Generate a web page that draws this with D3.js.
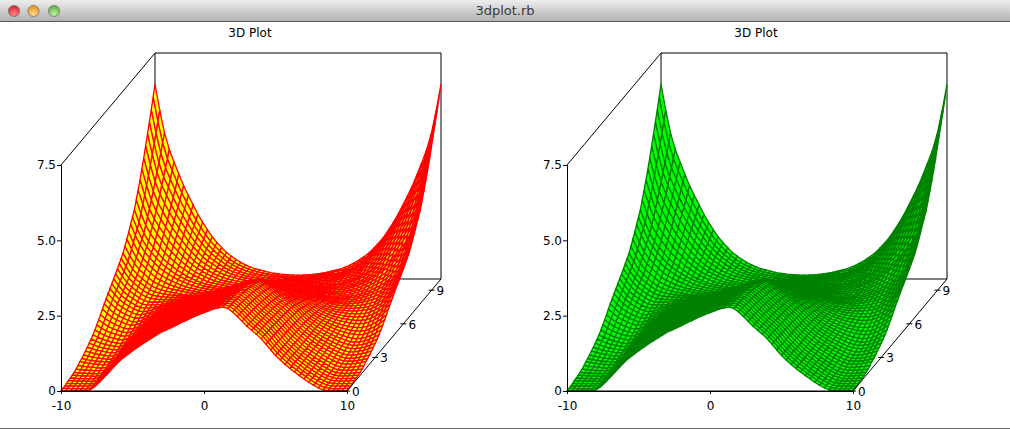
<!DOCTYPE html>
<html><head><meta charset="utf-8"><script src="https://cdnjs.cloudflare.com/ajax/libs/d3/7.8.5/d3.min.js"></script>
<style>html,body{margin:0;padding:0;background:#fff}svg{display:block}text{font-family:"DejaVu Sans",sans-serif}</style></head><body><script>
const W=1010,H=429;
const title="3D Plot",windowTitle="3dplot.rb";
const xTicks=[-10,0,10],zTicks=[0,2.5,5,7.5],depthTicks=[0,3,6,9];
const xValues=d3.range(61).map(i=>-10+i/3),depthValues=d3.range(51).map(i=>i/5);
const surfaceZ=[
[0,0,0,0,0,0,.03,.13,.28,.45,.62,.79,.95,1.09,1.21,1.33,1.44,1.55,1.65,1.75,1.85,1.95,2.02,2.09,2.17,2.25,2.32,2.40,2.47,2.54,2.60,2.66,2.72,2.76,2.78,2.74,2.62,2.47,2.31,2.15,2.01,1.88,1.73,1.55,1.36,1.18,1.03,.88,.75,.63,.51,.40,.29,.19,.10,.04,.01,0,0,0,0],
[.01,.01,0,0,0,0,.03,.13,.28,.45,.62,.79,.95,1.09,1.21,1.33,1.44,1.55,1.65,1.75,1.85,1.95,2.02,2.09,2.17,2.25,2.32,2.40,2.47,2.54,2.60,2.65,2.71,2.76,2.78,2.73,2.62,2.47,2.31,2.15,2.01,1.88,1.73,1.55,1.36,1.18,1.03,.88,.75,.63,.51,.40,.29,.19,.10,.04,.01,0,0,.01,.01],
[.01,.01,.01,.01,.01,.01,.04,.14,.28,.45,.62,.79,.95,1.09,1.21,1.33,1.44,1.54,1.64,1.74,1.84,1.94,2.01,2.08,2.16,2.24,2.31,2.39,2.46,2.53,2.59,2.65,2.71,2.75,2.77,2.73,2.61,2.46,2.30,2.14,2.00,1.87,1.72,1.54,1.35,1.18,1.03,.88,.75,.63,.51,.40,.29,.20,.11,.05,.02,.01,.01,.01,.01],
[.03,.02,.02,.02,.02,.01,.04,.14,.29,.45,.62,.79,.95,1.09,1.20,1.32,1.43,1.54,1.64,1.74,1.84,1.94,2.01,2.07,2.15,2.23,2.30,2.38,2.45,2.52,2.58,2.64,2.70,2.74,2.76,2.72,2.60,2.45,2.29,2.13,2.00,1.87,1.72,1.54,1.35,1.17,1.03,.88,.75,.63,.51,.40,.30,.20,.11,.05,.03,.02,.02,.02,.03],
[.05,.04,.03,.03,.03,.02,.05,.15,.29,.46,.63,.79,.95,1.09,1.20,1.32,1.43,1.54,1.63,1.73,1.83,1.93,2.00,2.07,2.15,2.22,2.29,2.37,2.44,2.51,2.57,2.63,2.69,2.73,2.75,2.71,2.59,2.44,2.28,2.13,1.99,1.86,1.71,1.54,1.35,1.17,1.03,.88,.75,.63,.52,.41,.30,.21,.12,.06,.04,.03,.03,.04,.05],
[.06,.05,.04,.04,.03,.03,.06,.15,.30,.46,.63,.79,.95,1.08,1.20,1.32,1.42,1.53,1.63,1.72,1.82,1.92,1.99,2.06,2.14,2.21,2.28,2.36,2.43,2.50,2.56,2.62,2.68,2.71,2.73,2.70,2.58,2.43,2.27,2.12,1.98,1.85,1.71,1.53,1.34,1.17,1.02,.88,.75,.63,.52,.41,.31,.21,.13,.07,.04,.04,.04,.05,.06],
[.08,.07,.06,.05,.05,.04,.07,.16,.30,.47,.63,.79,.95,1.08,1.19,1.31,1.42,1.52,1.62,1.72,1.81,1.91,1.98,2.05,2.12,2.20,2.27,2.35,2.41,2.48,2.54,2.60,2.66,2.70,2.72,2.68,2.56,2.42,2.26,2.11,1.97,1.84,1.70,1.52,1.34,1.16,1.02,.87,.75,.63,.52,.42,.31,.22,.14,.08,.06,.05,.06,.07,.08],
[.10,.08,.07,.06,.06,.05,.08,.17,.31,.47,.63,.79,.94,1.08,1.19,1.30,1.41,1.52,1.61,1.71,1.80,1.90,1.97,2.04,2.11,2.19,2.26,2.34,2.40,2.47,2.53,2.59,2.65,2.69,2.71,2.67,2.55,2.40,2.25,2.10,1.96,1.83,1.69,1.52,1.33,1.16,1.02,.87,.75,.64,.52,.42,.32,.23,.14,.09,.07,.06,.07,.08,.10],
[.13,.11,.10,.09,.08,.07,.09,.18,.32,.48,.64,.79,.94,1.08,1.19,1.30,1.40,1.51,1.60,1.70,1.79,1.89,1.95,2.02,2.10,2.17,2.24,2.32,2.39,2.45,2.51,2.57,2.63,2.67,2.69,2.65,2.53,2.39,2.24,2.08,1.95,1.82,1.68,1.51,1.33,1.16,1.01,.87,.75,.64,.53,.43,.33,.24,.16,.11,.09,.09,.10,.11,.13],
[.17,.15,.13,.12,.10,.09,.11,.20,.33,.49,.64,.80,.95,1.08,1.19,1.30,1.40,1.50,1.59,1.69,1.78,1.88,1.94,2.01,2.08,2.16,2.22,2.30,2.37,2.43,2.49,2.55,2.61,2.65,2.67,2.63,2.51,2.37,2.22,2.07,1.93,1.81,1.67,1.50,1.32,1.15,1.02,.88,.75,.65,.54,.44,.34,.26,.18,.13,.11,.12,.13,.15,.17],
[.23,.20,.17,.15,.14,.12,.14,.22,.35,.50,.65,.81,.95,1.08,1.18,1.29,1.39,1.49,1.58,1.68,1.77,1.86,1.93,1.99,2.06,2.14,2.21,2.28,2.35,2.41,2.47,2.53,2.58,2.62,2.64,2.60,2.49,2.35,2.20,2.05,1.92,1.80,1.66,1.49,1.32,1.15,1.01,.88,.76,.65,.55,.45,.36,.28,.20,.16,.15,.15,.17,.20,.23],
[.26,.22,.19,.17,.16,.14,.15,.23,.36,.51,.66,.81,.95,1.07,1.18,1.29,1.38,1.48,1.57,1.66,1.76,1.85,1.91,1.97,2.05,2.12,2.19,2.26,2.33,2.39,2.45,2.51,2.56,2.60,2.62,2.58,2.47,2.33,2.18,2.03,1.91,1.79,1.65,1.48,1.31,1.14,1.01,.88,.76,.66,.55,.46,.37,.29,.22,.18,.17,.17,.19,.22,.26],
[.30,.26,.23,.20,.18,.16,.17,.25,.38,.52,.66,.81,.95,1.07,1.17,1.28,1.38,1.47,1.56,1.65,1.74,1.83,1.89,1.96,2.03,2.10,2.17,2.24,2.30,2.37,2.42,2.48,2.54,2.57,2.59,2.56,2.45,2.31,2.16,2.02,1.89,1.77,1.63,1.47,1.30,1.14,1.01,.88,.76,.66,.56,.47,.39,.31,.24,.20,.19,.20,.23,.26,.30],
[.36,.31,.27,.24,.21,.19,.20,.27,.39,.53,.67,.82,.95,1.07,1.17,1.27,1.37,1.46,1.55,1.64,1.72,1.81,1.88,1.94,2.01,2.08,2.14,2.22,2.28,2.34,2.40,2.46,2.51,2.55,2.57,2.53,2.42,2.29,2.14,2.00,1.87,1.76,1.62,1.46,1.29,1.13,1.00,.88,.77,.67,.57,.49,.40,.33,.26,.23,.22,.24,.27,.31,.36],
[.41,.36,.31,.28,.25,.22,.23,.30,.41,.55,.68,.82,.95,1.07,1.17,1.27,1.36,1.45,1.53,1.62,1.71,1.79,1.85,1.92,1.98,2.05,2.12,2.19,2.25,2.32,2.37,2.42,2.48,2.52,2.54,2.50,2.39,2.26,2.12,1.97,1.85,1.74,1.60,1.45,1.28,1.13,1.00,.88,.77,.68,.58,.50,.42,.35,.29,.25,.26,.28,.31,.36,.41],
[.47,.41,.35,.31,.28,.25,.25,.32,.43,.56,.69,.83,.95,1.06,1.17,1.26,1.35,1.43,1.52,1.60,1.69,1.77,1.83,1.89,1.96,2.03,2.09,2.16,2.22,2.28,2.34,2.39,2.44,2.48,2.50,2.47,2.36,2.23,2.09,1.95,1.83,1.72,1.59,1.43,1.27,1.12,1.00,.88,.77,.68,.59,.51,.44,.37,.32,.29,.29,.31,.35,.41,.47],
[.53,.46,.40,.35,.32,.29,.28,.34,.45,.57,.70,.83,.95,1.06,1.15,1.24,1.33,1.42,1.50,1.58,1.66,1.74,1.80,1.86,1.93,2.00,2.06,2.12,2.19,2.25,2.30,2.35,2.41,2.44,2.46,2.43,2.32,2.20,2.06,1.92,1.80,1.69,1.57,1.42,1.26,1.11,.99,.87,.77,.69,.61,.53,.46,.39,.35,.32,.33,.35,.40,.46,.53],
[.60,.52,.45,.40,.36,.32,.31,.37,.47,.59,.71,.83,.95,1.05,1.14,1.23,1.31,1.40,1.47,1.55,1.63,1.71,1.77,1.83,1.89,1.96,2.02,2.09,2.14,2.20,2.26,2.31,2.36,2.40,2.41,2.38,2.28,2.15,2.02,1.89,1.77,1.67,1.54,1.40,1.24,1.10,.98,.87,.78,.69,.61,.54,.48,.42,.37,.36,.36,.40,.45,.52,.60],
[.68,.59,.51,.45,.41,.37,.35,.40,.49,.60,.72,.83,.95,1.04,1.13,1.21,1.30,1.37,1.44,1.52,1.60,1.67,1.73,1.78,1.85,1.91,1.97,2.03,2.09,2.15,2.20,2.25,2.30,2.34,2.35,2.32,2.22,2.10,1.97,1.84,1.73,1.63,1.51,1.37,1.22,1.08,.97,.87,.78,.70,.63,.56,.50,.45,.41,.40,.41,.45,.51,.59,.68],
[.78,.67,.58,.52,.47,.42,.40,.44,.52,.63,.73,.84,.94,1.03,1.11,1.19,1.26,1.34,1.41,1.48,1.55,1.62,1.68,1.73,1.79,1.85,1.90,1.97,2.02,2.08,2.13,2.18,2.23,2.26,2.28,2.25,2.15,2.04,1.91,1.79,1.68,1.58,1.47,1.34,1.19,1.06,.96,.86,.78,.71,.64,.58,.53,.49,.47,.45,.47,.52,.58,.67,.78],
[.87,.76,.65,.58,.52,.47,.44,.48,.55,.65,.74,.85,.93,1.02,1.09,1.16,1.23,1.31,1.37,1.44,1.51,1.58,1.63,1.68,1.73,1.79,1.84,1.90,1.96,2.01,2.06,2.11,2.15,2.19,2.20,2.18,2.09,1.97,1.85,1.73,1.63,1.54,1.43,1.30,1.17,1.04,.95,.85,.78,.71,.65,.60,.56,.52,.50,.50,.52,.58,.65,.76,.87],
[.97,.84,.73,.65,.58,.52,.49,.51,.58,.66,.75,.84,.93,1.00,1.07,1.14,1.20,1.27,1.33,1.39,1.46,1.52,1.57,1.62,1.67,1.73,1.78,1.84,1.89,1.94,1.98,2.03,2.08,2.11,2.12,2.10,2.01,1.90,1.79,1.68,1.58,1.49,1.39,1.27,1.14,1.02,.93,.84,.78,.72,.67,.62,.58,.56,.54,.55,.58,.65,.73,.84,.97],
[1.08,.94,.81,.72,.65,.58,.54,.56,.61,.69,.76,.85,.92,.99,1.05,1.11,1.17,1.23,1.29,1.35,1.41,1.47,1.52,1.57,1.61,1.67,1.72,1.77,1.82,1.87,1.91,1.95,2.00,2.03,2.04,2.02,1.94,1.83,1.72,1.62,1.52,1.44,1.35,1.23,1.11,.99,.92,.84,.78,.73,.68,.65,.62,.60,.59,.61,.65,.72,.81,.94,1.08],
[1.18,1.02,.88,.78,.71,.63,.58,.59,.64,.71,.77,.85,.91,.97,1.03,1.08,1.13,1.19,1.24,1.30,1.35,1.41,1.45,1.50,1.54,1.59,1.64,1.69,1.74,1.78,1.82,1.86,1.91,1.94,1.95,1.93,1.85,1.76,1.65,1.55,1.46,1.39,1.30,1.19,1.08,.98,.90,.83,.77,.73,.69,.67,.64,.63,.63,.66,.71,.78,.88,1.02,1.18],
[1.27,1.10,.96,.85,.76,.69,.63,.63,.67,.73,.78,.85,.90,.96,1.00,1.05,1.10,1.15,1.20,1.25,1.30,1.35,1.39,1.43,1.48,1.52,1.57,1.61,1.66,1.70,1.74,1.78,1.82,1.85,1.87,1.84,1.77,1.68,1.58,1.49,1.41,1.33,1.25,1.15,1.05,.95,.89,.82,.77,.74,.70,.69,.67,.67,.68,.71,.76,.85,.96,1.10,1.27],
[1.37,1.19,1.03,.91,.82,.74,.68,.67,.70,.74,.79,.84,.89,.94,.98,1.02,1.06,1.11,1.15,1.19,1.24,1.29,1.33,1.36,1.40,1.45,1.49,1.53,1.57,1.61,1.65,1.69,1.73,1.76,1.77,1.75,1.68,1.60,1.51,1.42,1.34,1.27,1.20,1.11,1.01,.92,.86,.81,.77,.74,.72,.71,.70,.71,.72,.76,.83,.91,1.03,1.19,1.37],
[1.46,1.27,1.10,.97,.88,.79,.72,.70,.72,.76,.80,.85,.88,.92,.95,.98,1.03,1.07,1.10,1.14,1.18,1.23,1.26,1.30,1.33,1.37,1.41,1.45,1.49,1.53,1.56,1.60,1.64,1.66,1.68,1.66,1.60,1.52,1.43,1.35,1.28,1.22,1.14,1.06,.97,.89,.84,.79,.76,.74,.72,.72,.73,.74,.76,.81,.88,.97,1.10,1.27,1.46],
[1.55,1.34,1.16,1.03,.93,.84,.76,.74,.75,.77,.80,.83,.87,.90,.92,.95,.98,1.02,1.05,1.08,1.12,1.16,1.19,1.22,1.25,1.29,1.33,1.37,1.41,1.44,1.47,1.51,1.54,1.57,1.58,1.57,1.50,1.43,1.35,1.27,1.21,1.16,1.09,1.01,.94,.87,.82,.78,.75,.74,.73,.74,.75,.77,.80,.84,.93,1.03,1.16,1.34,1.55],
[1.64,1.42,1.23,1.09,.99,.88,.80,.77,.77,.78,.79,.82,.85,.87,.89,.92,.94,.97,1.00,1.03,1.06,1.10,1.13,1.15,1.19,1.22,1.25,1.29,1.32,1.36,1.38,1.42,1.45,1.47,1.49,1.47,1.42,1.35,1.28,1.21,1.15,1.10,1.04,.97,.90,.84,.80,.76,.75,.74,.74,.75,.77,.80,.84,.88,.99,1.09,1.23,1.42,1.64],
[1.73,1.50,1.30,1.15,1.04,.93,.84,.80,.79,.79,.80,.82,.84,.85,.86,.87,.90,.92,.95,.97,1.00,1.03,1.06,1.08,1.10,1.14,1.17,1.20,1.23,1.26,1.29,1.31,1.34,1.37,1.38,1.37,1.32,1.26,1.19,1.12,1.07,1.03,.98,.92,.86,.80,.77,.75,.73,.74,.75,.77,.80,.83,.88,.93,1.04,1.15,1.30,1.50,1.73],
[1.82,1.58,1.37,1.21,1.09,.98,.89,.84,.82,.80,.80,.81,.81,.82,.84,.83,.85,.87,.88,.90,.93,.96,.97,1.00,1.02,1.06,1.07,1.10,1.13,1.16,1.18,1.21,1.24,1.26,1.27,1.26,1.21,1.16,1.10,1.04,1.00,.96,.92,.87,.81,.76,.74,.72,.72,.74,.75,.78,.82,.86,.92,.98,1.09,1.21,1.37,1.58,1.82],
[1.92,1.66,1.44,1.28,1.15,1.03,.93,.87,.84,.82,.81,.80,.80,.80,.80,.79,.81,.81,.83,.84,.87,.89,.90,.91,.93,.96,.98,1.00,1.03,1.06,1.08,1.10,1.13,1.15,1.16,1.15,1.11,1.07,1.01,.96,.92,.89,.86,.81,.77,.73,.72,.71,.72,.73,.76,.80,.84,.90,.96,1.03,1.15,1.28,1.44,1.66,1.92],
[2.02,1.75,1.51,1.34,1.21,1.09,.98,.91,.87,.84,.81,.80,.79,.78,.76,.75,.76,.76,.76,.77,.79,.80,.81,.82,.85,.87,.88,.90,.92,.94,.96,.99,1.01,1.03,1.04,1.03,1.00,.96,.91,.87,.84,.82,.79,.76,.72,.70,.69,.69,.71,.73,.77,.81,.87,.93,1.01,1.09,1.21,1.34,1.51,1.75,2.02],
[2.12,1.84,1.59,1.41,1.27,1.14,1.03,.95,.90,.85,.82,.80,.76,.74,.72,.72,.70,.70,.70,.71,.72,.73,.73,.75,.76,.77,.78,.80,.82,.85,.86,.88,.90,.92,.93,.92,.90,.87,.83,.79,.76,.75,.74,.71,.68,.66,.66,.67,.70,.73,.78,.84,.89,.97,1.05,1.14,1.27,1.41,1.59,1.84,2.12],
[2.27,1.96,1.70,1.50,1.36,1.22,1.09,1.01,.94,.89,.84,.81,.78,.74,.71,.70,.69,.68,.67,.67,.68,.69,.69,.70,.72,.73,.73,.75,.77,.80,.79,.82,.83,.85,.85,.85,.82,.80,.77,.74,.72,.72,.71,.68,.66,.65,.65,.67,.71,.75,.80,.86,.94,1.03,1.11,1.22,1.36,1.50,1.70,1.96,2.27],
[2.43,2.10,1.82,1.61,1.46,1.31,1.17,1.07,1.00,.92,.87,.81,.77,.74,.70,.68,.66,.65,.64,.63,.63,.63,.64,.64,.65,.66,.67,.68,.68,.70,.72,.74,.76,.77,.78,.78,.76,.74,.71,.69,.67,.67,.66,.65,.64,.64,.66,.68,.72,.77,.84,.91,1.00,1.09,1.17,1.31,1.46,1.61,1.82,2.10,2.43],
[2.59,2.24,1.94,1.72,1.55,1.39,1.25,1.14,1.05,.97,.90,.84,.78,.74,.70,.66,.64,.62,.61,.59,.59,.59,.59,.59,.60,.61,.61,.62,.64,.65,.66,.68,.70,.71,.71,.71,.70,.68,.66,.64,.63,.63,.63,.62,.62,.63,.66,.69,.74,.80,.88,.96,1.05,1.15,1.25,1.39,1.55,1.72,1.94,2.24,2.59],
[2.78,2.41,2.09,1.85,1.67,1.50,1.34,1.22,1.12,1.02,.94,.87,.80,.75,.70,.66,.63,.61,.59,.57,.56,.55,.56,.55,.55,.56,.56,.57,.58,.59,.61,.62,.63,.64,.66,.66,.64,.63,.62,.60,.60,.60,.60,.61,.61,.63,.66,.71,.77,.84,.92,1.01,1.12,1.24,1.34,1.50,1.67,1.85,2.09,2.41,2.78],
[2.94,2.55,2.21,1.96,1.77,1.58,1.42,1.28,1.17,1.06,.97,.89,.82,.76,.71,.65,.62,.60,.56,.55,.53,.52,.51,.51,.51,.51,.52,.53,.53,.54,.55,.56,.58,.59,.60,.60,.59,.59,.58,.56,.56,.57,.58,.59,.60,.62,.66,.72,.78,.86,.95,1.05,1.17,1.29,1.42,1.58,1.77,1.96,2.21,2.55,2.94],
[3.11,2.69,2.33,2.06,1.86,1.67,1.49,1.35,1.23,1.11,1.01,.91,.83,.76,.70,.64,.61,.57,.54,.52,.50,.49,.47,.47,.47,.47,.47,.47,.47,.48,.49,.50,.52,.53,.54,.54,.54,.54,.53,.52,.53,.54,.55,.57,.59,.62,.67,.73,.80,.89,.99,1.10,1.23,1.36,1.49,1.67,1.86,2.06,2.33,2.69,3.11],
[3.36,2.91,2.52,2.24,2.02,1.81,1.61,1.46,1.32,1.18,1.07,.96,.87,.79,.72,.65,.61,.57,.53,.50,.48,.46,.44,.44,.44,.43,.43,.43,.43,.44,.45,.46,.47,.48,.48,.49,.49,.50,.50,.49,.50,.52,.54,.56,.59,.63,.69,.77,.84,.94,1.05,1.17,1.32,1.46,1.61,1.81,2.02,2.24,2.52,2.91,3.36],
[3.62,3.14,2.72,2.41,2.17,1.95,1.74,1.57,1.41,1.26,1.13,1.01,.89,.82,.74,.67,.61,.56,.52,.49,.46,.44,.42,.40,.40,.39,.39,.39,.39,.40,.41,.42,.42,.44,.45,.45,.45,.46,.46,.47,.48,.49,.51,.54,.58,.63,.70,.79,.87,.98,1.11,1.25,1.41,1.58,1.74,1.95,2.17,2.41,2.72,3.14,3.62],
[3.88,3.36,2.91,2.58,2.33,2.09,1.86,1.68,1.51,1.34,1.20,1.06,.95,.85,.76,.69,.62,.56,.52,.48,.45,.42,.40,.38,.37,.36,.36,.36,.36,.36,.37,.38,.39,.39,.41,.42,.42,.43,.44,.45,.46,.49,.52,.54,.58,.64,.72,.82,.92,1.04,1.18,1.33,1.50,1.68,1.87,2.09,2.33,2.58,2.91,3.36,3.88],
[4.17,3.61,3.13,2.77,2.50,2.24,2.00,1.80,1.61,1.43,1.27,1.11,.99,.88,.79,.70,.63,.57,.52,.48,.44,.41,.39,.36,.35,.33,.33,.33,.33,.33,.34,.34,.35,.36,.38,.39,.40,.41,.42,.43,.45,.49,.52,.55,.60,.66,.77,.87,.97,1.11,1.25,1.42,1.61,1.80,2.01,2.24,2.50,2.77,3.13,3.61,4.17],
[4.46,3.86,3.35,2.97,2.68,2.40,2.14,1.92,1.72,1.52,1.35,1.18,1.04,.94,.82,.74,.65,.58,.53,.49,.44,.41,.38,.35,.33,.32,.31,.31,.30,.30,.30,.31,.33,.33,.35,.36,.37,.39,.40,.41,.44,.48,.52,.56,.61,.69,.80,.92,1.03,1.18,1.35,1.52,1.72,1.92,2.15,2.40,2.68,2.97,3.35,3.86,4.46],
[4.79,4.14,3.59,3.18,2.87,2.58,2.30,2.06,1.84,1.62,1.44,1.26,1.10,.97,.87,.76,.67,.60,.53,.48,.43,.40,.37,.34,.32,.30,.29,.28,.27,.27,.27,.28,.29,.30,.31,.33,.35,.37,.38,.39,.43,.47,.52,.57,.63,.71,.84,.96,1.10,1.26,1.44,1.62,1.84,2.06,2.30,2.58,2.87,3.18,3.59,4.14,4.79],
[5.11,4.42,3.83,3.40,3.07,2.75,2.45,2.20,1.96,1.72,1.52,1.33,1.16,1.02,.90,.79,.69,.60,.53,.48,.42,.38,.35,.32,.29,.27,.26,.25,.24,.24,.24,.25,.26,.27,.28,.30,.32,.34,.36,.37,.41,.46,.51,.57,.65,.75,.88,1.02,1.16,1.33,1.52,1.72,1.96,2.20,2.45,2.75,3.07,3.40,3.83,4.42,5.11],
[5.43,4.70,4.07,3.61,3.26,2.92,2.60,2.33,2.07,1.82,1.61,1.40,1.22,1.07,.93,.82,.70,.61,.53,.47,.41,.37,.34,.30,.27,.25,.24,.22,.21,.21,.21,.22,.22,.23,.25,.27,.29,.32,.33,.35,.39,.45,.50,.58,.67,.78,.91,1.06,1.22,1.40,1.61,1.82,2.07,2.33,2.60,2.92,3.26,3.61,4.07,4.70,5.43],
[5.76,4.98,4.32,3.83,3.45,3.10,2.76,2.47,2.19,1.92,1.69,1.47,1.27,1.11,.96,.84,.72,.62,.53,.47,.41,.36,.32,.28,.26,.23,.22,.20,.19,.18,.18,.19,.19,.20,.22,.24,.27,.29,.31,.33,.37,.44,.49,.58,.68,.80,.95,1.11,1.27,1.47,1.69,1.92,2.19,2.47,2.76,3.10,3.45,3.83,4.32,4.98,5.76],
[6.11,5.29,4.58,4.06,3.67,3.29,2.93,2.62,2.32,2.03,1.78,1.55,1.33,1.16,1.00,.86,.73,.62,.54,.47,.40,.35,.31,.27,.24,.21,.19,.17,.16,.15,.15,.16,.17,.18,.19,.21,.24,.27,.31,.34,.38,.44,.52,.61,.72,.83,.99,1.15,1.33,1.55,1.78,2.03,2.32,2.62,2.93,3.29,3.67,4.06,4.58,5.29,6.11],
[6.47,5.60,4.85,4.30,3.88,3.48,3.10,2.77,2.46,2.15,1.88,1.63,1.40,1.21,1.04,.88,.76,.65,.55,.47,.40,.34,.30,.26,.22,.19,.17,.15,.14,.13,.13,.13,.14,.15,.17,.19,.22,.26,.30,.34,.40,.47,.55,.65,.76,.88,1.04,1.21,1.40,1.63,1.88,2.15,2.46,2.77,3.10,3.48,3.88,4.30,4.85,5.60,6.47]
];
const svg=d3.select("body").append("svg").attr("width",W).attr("height",H);
const defs=svg.append("defs");
const g0=defs.append("linearGradient").attr("id","bar").attr("x1",0).attr("y1",0).attr("x2",0).attr("y2",1);
g0.append("stop").attr("offset",0).attr("stop-color","#ededed");g0.append("stop").attr("offset",1).attr("stop-color","#b2b2b2");
svg.append("rect").attr("width",W).attr("height",21).attr("fill","url(#bar)");
svg.append("line").attr("x1",0).attr("x2",W).attr("y1",21.5).attr("y2",21.5).attr("stroke","#5c5c5c");
[["r",14,"#ff8a8a","#d8202c"],["o",33.5,"#ffd98a","#e8921c"],["g",54,"#c4f0a8","#58b040"]].forEach(([id,x,a,b])=>{const rg=defs.append("radialGradient").attr("id",id).attr("cy","75%").attr("r","70%");rg.append("stop").attr("offset",0).attr("stop-color",a);rg.append("stop").attr("offset",1).attr("stop-color",b);svg.append("circle").attr("cx",x).attr("cy",11).attr("r",5.6).attr("fill",`url(#${id})`).attr("stroke","#777").attr("stroke-width",.8)});
svg.append("text").attr("x",505).attr("y",15).attr("text-anchor","middle").attr("font-size",13).attr("fill","#3a3a3a").text(windowTitle);
function panel(dx,fill,line){
 const g=svg.append("g").attr("transform",`translate(${dx},0)`);
 const sx=d3.scaleLinear([-10,10],[61,347]),dxS=d3.scaleLinear([0,10],[0,94]),dyS=d3.scaleLinear([0,10],[0,-112]),sz=d3.scaleLinear([0,7.5],[391,165]);
 const P=(x,y,z)=>[sx(x)+dxS(y),dyS(y)+sz(z)];
 const L=(a,b)=>g.append("line").attr("x1",a[0]).attr("y1",a[1]).attr("x2",b[0]).attr("y2",b[1]).attr("stroke","#000").attr("stroke-width",1);
 g.append("text").attr("x",250).attr("y",37).attr("text-anchor","middle").attr("font-size",12).text(title);
 L(P(-10,10,0),P(10,10,0));L(P(-10,10,0),P(-10,10,7.5));L(P(-10,0,0),P(-10,10,0));L(P(-10,10,7.5),P(10,10,7.5));L(P(10,10,0),P(10,10,7.5));L(P(-10,0,7.5),P(-10,10,7.5));
 const line2=d3.line();
 for(let r=depthValues.length-2;r>=0;r--)for(let c=0;c<xValues.length-1;c++){
  const xa=xValues[c],xb=xValues[c+1],ya=depthValues[r],yb=depthValues[r+1];
  g.append("path").attr("d",line2([P(xa,ya,surfaceZ[r][c]),P(xb,ya,surfaceZ[r][c+1]),P(xb,yb,surfaceZ[r+1][c+1]),P(xa,yb,surfaceZ[r+1][c])])+"Z").attr("fill",fill).attr("stroke",line).attr("stroke-width",1.3);
 }
 L(P(-10,0,0),P(10,0,0));L(P(10,0,0),P(10,10,0));
 const za=g.append("g").attr("transform","translate(61,0)").call(d3.axisLeft(sz).tickValues(zTicks).tickSize(4).tickPadding(1).tickFormat(z=>z==0?"0":z.toFixed(1)));
 za.attr("font-size",12);
 const xa=g.append("g").attr("transform","translate(0,391)").call(d3.axisBottom(sx).tickValues(xTicks).tickSize(3).tickPadding(7).tickFormat(x=>String(x)));
 xa.attr("font-size",12);
 [za,xa].forEach(a=>{a.select(".domain").attr("stroke","#000");a.selectAll("text").attr("fill","#000");});
 depthTicks.forEach(y=>{const p=P(10,y,0);L([p[0]-3,p[1]],[p[0]+3,p[1]]);g.append("text").attr("x",p[0]+5).attr("y",p[1]+5).attr("font-size",12).text(y);});
}
panel(0,"#ffff00","#ff0000");panel(506,"#00ff00","#008000");
svg.append("line").attr("x1",0).attr("x2",W).attr("y1",428.5).attr("y2",428.5).attr("stroke","#666");
</script></body></html>
